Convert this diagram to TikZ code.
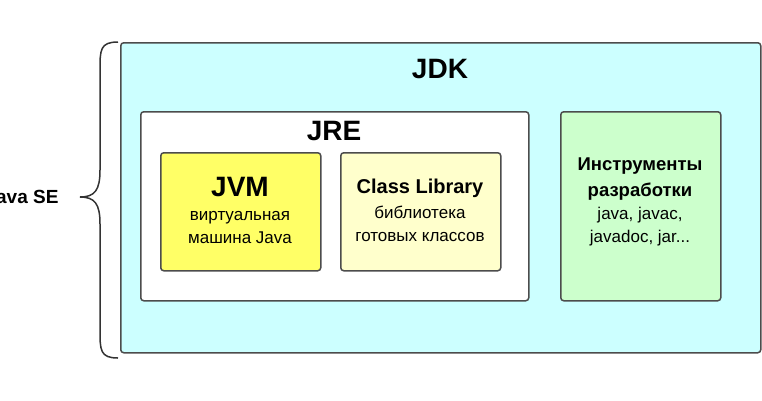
\documentclass[tikz,border=0pt]{standalone}
\usepackage{fontspec}
\setmainfont{Liberation Sans}
\begin{document}
\begin{tikzpicture}[x=1pt,y=-1pt,
  box/.style={draw=black!70,line width=1.5pt,rounded corners=3pt},
  ttl/.style={font=\bfseries\fontsize{28}{30}\selectfont},
  sub/.style={font=\fontsize{17}{23}\selectfont,align=center}]
\useasboundingbox (0,0) rectangle (762,400);
\node[box,fill={rgb,255:red,204;green,255;blue,255},minimum width=640,minimum height=310,anchor=north west] (jdk) at (120,42) {};
\node[ttl] (jdkt) at (440,69) {JDK};
\node[box,fill=white,minimum width=388,minimum height=189,anchor=north west] (jre) at (140,111) {};
\node[ttl] (jret) at (334,131) {JRE};
\node[box,fill={rgb,255:red,255;green,255;blue,102},minimum width=160,minimum height=118,anchor=north west] (jvm) at (160,152) {};
\node[ttl] (jvmt) at (240,187) {JVM};
\node[sub] (jvms) at (240,228) {виртуальная\\машина Java};
\node[box,fill={rgb,255:red,255;green,255;blue,204},minimum width=160,minimum height=118,anchor=north west] (cl) at (340,152) {};
\node[font=\bfseries\fontsize{20}{22}\selectfont] (clt) at (420,188) {Class Library};
\node[sub] (cls) at (420,224) {библиотека\\готовых классов};
\node[box,fill={rgb,255:red,204;green,255;blue,204},minimum width=160,minimum height=189,anchor=north west] (tools) at (560,111) {};
\node[font=\bfseries\fontsize{18.5}{26}\selectfont,align=center] (toolst) at (640,179) {Инструменты\\разработки};
\node[sub] (toolss) at (640,227) {java, javac,\\javadoc, jar...};
\draw[line width=1.5pt,black!80] (118,42) .. controls (100,42) and (100,50) .. (100,70)
  -- (100,170) .. controls (100,190) and (95,197) .. (80,197)
  .. controls (95,197) and (100,204) .. (100,224)
  -- (100,330) .. controls (100,350) and (100,358) .. (118,358);
\node[font=\bfseries\fontsize{19}{22}\selectfont,anchor=east] (se) at (62,197) {Java SE};
\end{tikzpicture}
\end{document}
